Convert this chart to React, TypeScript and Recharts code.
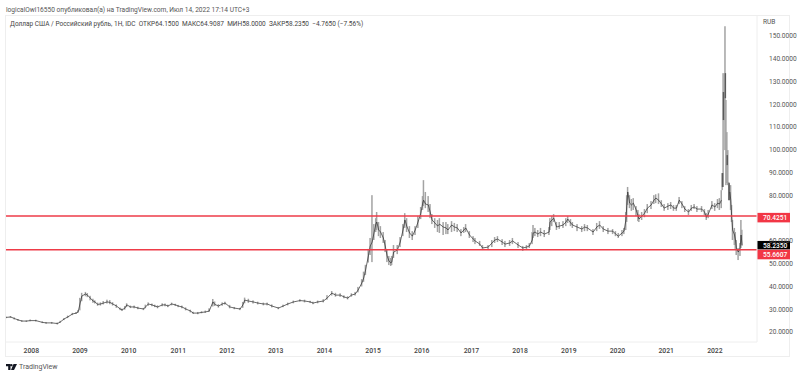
import { ComposedChart, Bar, Line, XAxis, YAxis, ReferenceLine } from "recharts";

const FONT = "Roboto, sans-serif";

// weeks counted from the start of 2008
const weeks = [
  -27, -22, -18, -14, -10, -5, -1, 5, 12, 16, 22, 28, 31, 35, 39, 44, 48, 50, 52, 54, 58, 60, 63, 66, 68, 71, 74, 77, 81, 84,
  87, 91, 95, 97, 100, 102, 106, 110, 114, 120, 122, 125, 129, 132, 135, 140, 143, 146, 150, 154, 157, 161, 165, 170, 173, 178, 182, 186, 190, 194,
  196, 200, 204, 207, 212, 217, 223, 226, 228, 232, 237, 242, 248, 252, 257, 264, 269, 274, 280, 287, 292, 298, 301, 306, 312, 316, 321, 325, 330, 334,
  338, 342, 346, 349, 353, 355, 357, 360,
  362, 364, 366, 368, 369, 371, 373, 376, 378, 380, 382, 384, 385, 387, 391, 394, 397, 399, 401, 404, 407, 410, 413, 416, 418, 419, 421, 424, 426, 428,
  431, 434, 436, 440, 443, 445, 449, 452, 455, 459, 462, 464, 468, 472, 474, 479, 482, 488, 492, 495, 498, 503, 506, 511, 514, 520, 525, 529, 532, 535,
  536, 538, 541, 544, 548, 553, 554, 556, 558, 561, 564, 568, 571, 573, 576, 578, 583, 588, 591, 594, 600, 604, 607, 611, 616, 621, 624, 627, 631, 633,
  635, 636, 637, 639, 641, 643, 646, 648, 649, 652, 655, 658, 662, 665, 667, 670, 673, 676, 680, 683, 686, 689, 692, 695, 698, 702, 705, 708, 711, 716,
  719, 721, 723, 727, 730, 733, 735, 737, 738, 739, 741, 742, 743, 744, 745, 746, 747, 748, 749, 751, 752, 753, 755, 757, 758, 759,
];

const closes = [
  26.4, 26.6, 25.9, 25.3, 24.8, 24.8, 25.0, 25.0, 24.2, 24.0, 24.0, 23.7, 24.4, 25.7, 26.6, 27.9, 28.3, 28.8, 32.3, 35.8, 36.7, 36.2, 34.9, 33.6, 33.2, 32.1, 32.3, 32.7, 33.2, 33.0,
  32.3, 31.4, 30.1, 29.7, 30.5, 31.9, 31.0, 31.0, 30.5, 30.1, 31.0, 32.3, 31.9, 31.4, 31.0, 31.9, 31.9, 31.4, 32.3, 31.9, 31.4, 31.0, 30.1, 29.2, 28.3, 28.3, 28.6, 28.8, 29.2, 33.2,
  32.1, 31.4, 32.3, 32.7, 31.0, 30.5, 30.1, 31.9, 34.0, 33.6, 33.2, 32.7, 32.3, 32.3, 31.4, 30.5, 31.4, 32.3, 33.2, 33.8, 33.6, 33.2, 32.7, 33.2, 33.6, 34.9, 37.1, 36.2, 36.2, 35.4,
  34.9, 36.2, 36.7, 38.4, 41.5, 43.7, 47.2, 53.4,
  57.8, 59.5, 63.5, 67.4, 68.3, 64.8, 63.9, 61.3, 57.8, 53.4, 51.2, 50.3, 50.7, 55.1, 56.0, 59.5, 64.8, 69.2, 66.5, 63.5, 62.1, 64.8, 68.3, 72.2, 76.6, 77.9, 76.2, 75.8, 72.7, 69.2,
  67.9, 66.5, 67.4, 66.1, 65.7, 64.8, 67.0, 66.1, 65.7, 63.5, 64.8, 65.7, 62.6, 60.8, 60.0, 58.6, 56.9, 57.3, 59.1, 60.4, 60.8, 59.5, 58.6, 59.1, 60.0, 58.2, 56.9, 57.3, 57.8, 60.4,
  63.5, 63.9, 63.0, 63.9, 63.0, 63.9, 68.3, 69.2, 70.0, 66.1, 66.5, 67.0, 68.3, 69.6, 67.9, 67.0, 66.1, 65.2, 66.1, 65.7, 63.9, 66.1, 67.0, 65.2, 64.3, 64.3, 63.0, 62.1, 63.5, 64.3,
  69.2, 75.8, 81.5, 76.6, 75.8, 76.6, 73.6, 70.9, 69.6, 70.9, 72.2, 74.4, 75.8, 77.9, 78.8, 77.9, 76.2, 74.4, 75.3, 75.8, 74.4, 74.4, 77.9, 76.2, 74.0, 72.7, 74.4, 74.9, 74.0, 74.0,
  72.7, 70.4, 71.8, 75.8, 74.9, 76.6, 76.2, 77.9, null, null, null, null, null, null, null, 81.5, 77.9, 70.5, 64.8, 62.6, 60.4, 56.9, 55.1, 56.9, 62.6, 58.2,
];

const highs = [
  26.8, 27.0, 26.4, 25.7, 25.2, 25.1, 25.5, 25.4, 24.7, 24.4, 24.4, 24.2, 24.9, 26.1, 27.2, 28.4, 28.8, 29.6, 35.0, 37.2, 37.6, 37.1, 35.9, 34.6, 33.9, 32.9, 33.0, 33.6, 34.2, 34.0,
  33.1, 32.1, 30.7, 30.3, 31.4, 32.6, 31.6, 31.6, 31.1, 30.6, 32.0, 33.0, 32.5, 32.0, 31.7, 32.6, 32.5, 32.0, 32.9, 32.4, 31.9, 31.6, 30.8, 29.8, 28.9, 28.8, 29.1, 29.4, 30.4, 34.5,
  33.4, 32.2, 33.0, 33.3, 31.9, 31.0, 30.6, 33.2, 35.1, 34.6, 33.9, 33.3, 32.9, 32.9, 32.1, 31.0, 32.0, 32.9, 33.8, 34.4, 34.2, 33.7, 33.3, 33.8, 34.4, 36.2, 38.0, 37.2, 37.0, 36.1,
  35.7, 37.0, 37.6, 39.8, 43.2, 46.5, 49.5, 56.5,
  61.3, 80.1, 67.4, 70.0, 72.7, 68.3, 66.5, 63.9, 60.4, 56.0, 53.4, 52.5, 53.4, 58.2, 58.2, 61.7, 67.4, 72.2, 70.0, 66.5, 64.3, 66.5, 70.9, 74.9, 79.7, 86.7, 81.5, 79.7, 76.2, 71.8,
  70.0, 69.2, 70.0, 68.3, 68.3, 67.4, 68.7, 67.9, 67.4, 65.2, 66.1, 67.4, 64.3, 62.1, 61.3, 60.0, 58.2, 58.2, 60.4, 61.7, 62.1, 60.8, 60.0, 60.4, 61.3, 59.5, 57.8, 58.2, 59.1, 63.9,
  67.0, 65.7, 64.8, 65.7, 64.8, 66.1, 70.0, 70.9, 71.8, 68.3, 68.3, 68.7, 70.0, 70.9, 69.6, 68.3, 67.4, 66.5, 67.4, 67.0, 65.2, 67.9, 68.7, 66.5, 65.7, 65.2, 64.3, 63.5, 64.8, 65.7,
  72.7, 80.1, 83.7, 80.1, 78.4, 78.8, 75.3, 73.6, 71.8, 72.7, 74.0, 76.2, 77.5, 80.1, 80.5, 80.9, 77.9, 76.2, 76.6, 77.1, 75.8, 75.8, 79.3, 77.5, 75.3, 74.0, 75.8, 76.2, 75.3, 75.3,
  74.0, 72.2, 73.6, 77.5, 76.6, 78.4, 78.8, 82.3, 89.8, 133.7, 154.3, 121.9, 107.8, 99.9, 85.9, 84.5, 84.5, 75.8, 69.2, 65.7, 63.9, 60.4, 56.9, 59.1, 69.2, 64.9,
];

const lows = [
  26.0, 26.2, 25.5, 24.9, 24.5, 24.4, 24.7, 24.6, 23.9, 23.6, 23.6, 23.3, 24.0, 25.2, 26.1, 27.4, 27.9, 28.4, 29.5, 33.5, 35.7, 35.3, 33.9, 32.8, 32.5, 31.5, 31.6, 32.1, 32.5, 32.2,
  31.6, 30.6, 29.6, 29.2, 29.8, 30.9, 30.5, 30.4, 30.0, 29.6, 30.4, 31.5, 31.3, 30.9, 30.4, 31.3, 31.3, 30.9, 31.7, 31.4, 30.9, 30.4, 29.5, 28.6, 27.9, 27.8, 28.2, 28.4, 28.8, 31.2,
  31.4, 30.7, 31.5, 32.0, 30.4, 30.0, 29.6, 30.6, 32.6, 32.8, 32.5, 32.1, 31.7, 31.7, 30.8, 30.0, 30.9, 31.7, 32.6, 33.3, 33.0, 32.7, 32.2, 32.6, 33.0, 34.2, 36.0, 35.5, 35.4, 34.8,
  34.3, 35.5, 36.0, 37.4, 40.0, 42.0, 45.0, 50.5,
  53.8, 50.7, 60.4, 63.9, 64.8, 62.1, 61.3, 59.1, 55.1, 50.7, 49.4, 49.0, 49.4, 52.5, 54.2, 57.3, 62.1, 65.7, 63.9, 61.3, 60.4, 62.6, 65.7, 69.6, 73.6, 75.3, 74.4, 72.7, 70.0, 67.4,
  65.7, 63.9, 63.5, 62.6, 63.0, 63.0, 63.9, 64.3, 63.9, 62.1, 63.5, 63.9, 61.3, 59.5, 58.6, 57.8, 56.0, 56.0, 57.3, 59.1, 59.5, 58.2, 57.3, 57.8, 58.6, 56.9, 55.6, 56.0, 56.9, 58.6,
  61.3, 62.1, 61.7, 62.1, 61.7, 62.6, 64.8, 66.5, 68.3, 64.8, 65.3, 65.7, 66.5, 67.9, 66.5, 65.7, 64.3, 63.9, 64.3, 64.3, 62.6, 64.3, 65.3, 63.9, 63.0, 63.0, 62.1, 61.3, 62.1, 63.0,
  64.8, 68.3, 75.8, 74.4, 73.2, 73.6, 70.9, 68.7, 68.3, 69.2, 70.4, 72.2, 74.0, 76.2, 76.6, 76.2, 74.9, 73.2, 73.6, 74.0, 73.2, 73.2, 76.2, 74.4, 72.7, 71.4, 73.2, 74.0, 72.7, 72.7,
  71.4, 69.2, 70.0, 74.0, 73.2, 74.4, 73.6, 74.4, 82.3, 83.7, 99.9, 84.5, 85.4, 84.5, 77.9, 77.9, 73.6, 68.3, 60.4, 58.2, 56.0, 53.8, 51.6, 53.4, 56.9, 57.8,
];

// the candles of the 2022 spike are drawn with their own bodies
const spikeWeeks = [738, 739, 741, 743, 745];
const spikeBodyLows = [83.7, 113.1, 122.7, 93.3, 77.9];
const spikeBodyHighs = [89.8, 125.4, 133.7, 97.7, 85.4];

const yearTicks = [0, 52, 104, 157, 209, 261, 313, 365, 417, 470, 522, 574, 626, 678, 730];
const yearLabels = ["2008", "2009", "2010", "2011", "2012", "2013", "2014", "2015", "2016", "2017", "2018", "2019", "2020", "2021", "2022"];
const priceTicks = [20, 30, 40, 50, 60, 80, 90, 100, 110, 120, 130, 140, 150];

// where the lines sit in the picture, and what their tags say
const upperLine = 71.0;
const lowerLine = 56.1;
const lastClose = 58.235;
const upperTag = "70.4251";
const lowerTag = "55.6607";
const lastTag = "58.2350";

const table = weeks.map((week, i) => {
  const s = spikeWeeks.indexOf(week);
  return {
    week,
    close: closes[i],
    range: [lows[i], highs[i]],
    body: s >= 0 ? [spikeBodyLows[s], spikeBodyHighs[s]] : null,
  };
});

// recharts squeezes the bars to the smallest week gap, so widen them here
const Wick = ({ x, y, width, height, fill }: any) => (
  <rect x={x + width / 2 - 0.75} y={y} width={1.5} height={height} fill={fill} />
);

const PriceTag = ({ viewBox, text, fill, dy, h }: any) => {
  const x = viewBox.x + viewBox.width;
  const top = viewBox.y + dy;
  return (
    <g>
      <rect x={x} y={top} width={33} height={h} fill={fill} />
      <text x={x + 6} y={top + h / 2 + 2.4} fontSize={6.6} fontFamily={FONT} fontWeight={500} fill="#fff">
        {text}
      </text>
    </g>
  );
};

const App = () => {
  return (
    <div style={{ position: "absolute", left: 0, top: 0, width: 801, height: 377, background: "#fff", fontFamily: FONT, overflow: "hidden" }}>
      <div style={{ position: "absolute", left: 6, top: 6, fontSize: 6.6, color: "#555", whiteSpace: "nowrap" }}>
        logicalOwl16550 опубликовал(а) на TradingView.com, Июл 14, 2022 17:14 UTC+3
      </div>
      <div style={{ position: "absolute", left: 5, top: 15, width: 785, height: 342, border: "1px solid #eeeeee", boxSizing: "border-box" }} />
      <div style={{ position: "absolute", left: 10, top: 20, fontSize: 6.5, color: "#444", whiteSpace: "pre" }}>
        {"Доллар США / Российский рубль, 1Н, IDC  ОТКР64.1500  МАКС64.9087  МИН58.0000  ЗАКР58.2350  −4.7650 (−7.56%)"}
      </div>
      <div style={{ position: "absolute", left: 763, top: 18, fontSize: 6.6, color: "#555" }}>RUB</div>
      <ComposedChart width={801} height={377} data={table} margin={{ left: 6, top: 16, right: 11, bottom: 20 }} style={{ position: "absolute", left: 0, top: 0 }}>
        <XAxis
          dataKey="week"
          type="number"
          domain={[-27, 775]}
          allowDataOverflow
          ticks={yearTicks}
          interval={0}
          tickFormatter={(v: number) => yearLabels[yearTicks.indexOf(v)]}
          tick={{ fontSize: 6.8, fill: "#444", fontFamily: FONT, fontWeight: 500 }}
          tickLine={false}
          axisLine={{ stroke: "#eeeeee" }}
          height={15}
          tickMargin={0}
        />
        <YAxis
          orientation="right"
          domain={[15.6, 158.8]}
          allowDataOverflow
          ticks={priceTicks}
          interval={0}
          tickFormatter={(v: number) => v.toFixed(4)}
          tick={{ fontSize: 6.6, fill: "#555", fontFamily: FONT, textAnchor: "start" }}
          tickLine={false}
          axisLine={{ stroke: "#eeeeee" }}
          width={33}
          tickMargin={6}
        />
        <Bar dataKey="range" fill="#a3a3a3" shape={Wick} isAnimationActive={false} />
        <Bar dataKey="body" fill="#5a5a5a" shape={Wick} isAnimationActive={false} />
        <Line dataKey="close" type="linear" stroke="#2a2a2a" strokeWidth={0.7} dot={false} connectNulls={false} isAnimationActive={false} />
        <ReferenceLine y={upperLine} stroke="#ee3b48" strokeWidth={1.5} label={<PriceTag text={upperTag} fill="#f23645" dy={-3} h={9.5} />} />
        <ReferenceLine y={lastClose} stroke="none" label={<PriceTag text={lastTag} fill="#000" dy={-4} h={8.5} />} />
        <ReferenceLine y={lowerLine} stroke="#ee3b48" strokeWidth={1.5} label={<PriceTag text={lowerTag} fill="#f23645" dy={0} h={9.5} />} />
      </ComposedChart>
      <svg width={11} height={7} style={{ position: "absolute", left: 6, top: 364 }}>
        <path d="M0 0h4.5v6H2.2V2.3H0z M5.5 0a1.1 1.1 0 1 0 .01 0z M7.5 0H11L8 6H5z" fill="#131722" />
      </svg>
      <div style={{ position: "absolute", left: 19, top: 363, fontSize: 7, color: "#555" }}>TradingView</div>
    </div>
  );
};

export default App;
